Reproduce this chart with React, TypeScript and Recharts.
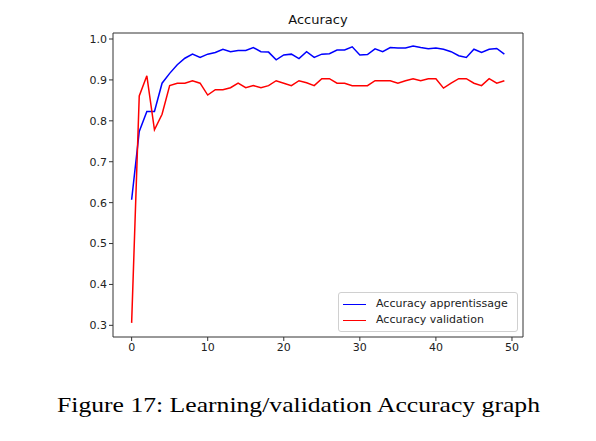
import React from "react";
import { LineChart, Line, XAxis, YAxis, ReferenceLine } from "recharts";

const epochs = Array.from({ length: 50 }, (_, i) => i);

const trainAcc = [
  0.607, 0.774, 0.823, 0.823, 0.892, 0.916, 0.937, 0.953, 0.963, 0.955,
  0.963, 0.967, 0.975, 0.969, 0.972, 0.972, 0.979, 0.969, 0.968, 0.949,
  0.961, 0.963, 0.952, 0.969, 0.955, 0.963, 0.964, 0.973, 0.973, 0.981,
  0.961, 0.962, 0.976, 0.969, 0.979, 0.978, 0.978, 0.983, 0.979, 0.976,
  0.978, 0.975, 0.969, 0.959, 0.955, 0.975, 0.967, 0.975, 0.977, 0.963,
];

const valAcc = [
  0.306, 0.861, 0.91, 0.778, 0.816, 0.886, 0.892, 0.892, 0.898, 0.892,
  0.863, 0.876, 0.876, 0.881, 0.892, 0.881, 0.886, 0.881, 0.886, 0.898,
  0.892, 0.886, 0.898, 0.893, 0.886, 0.903, 0.903, 0.892, 0.892, 0.886,
  0.886, 0.886, 0.898, 0.898, 0.898, 0.892, 0.898, 0.903, 0.898, 0.903,
  0.903, 0.88, 0.892, 0.903, 0.903, 0.892, 0.886, 0.903, 0.892, 0.898,
];

const xTicks = [0, 10, 20, 30, 40, 50];
const yTicks = [0.3, 0.4, 0.5, 0.6, 0.7, 0.8, 0.9, 1.0];

const seriesNames = ["Accuracy apprentissage", "Accuracy validation"];
const seriesColors = ["#0000ff", "#ff0000"];

const X_DOMAIN: [number, number] = [-2.45, 51.45];
const Y_DOMAIN: [number, number] = [0.2715, 1.0147];

const data = epochs.map((e, i) => ({ epoch: e, train: trainAcc[i], val: valAcc[i] }));

const FONT = "'DejaVu Sans', sans-serif";
const AXIS = "#333";

const LegendBox = () => (
  <div
    style={{
      position: "absolute",
      left: 338,
      top: 292,
      width: 180,
      boxSizing: "border-box",
      border: "1px solid #d0d0d0",
      borderRadius: 3,
      background: "rgba(255,255,255,0.8)",
      padding: "3px 3px 3px 4px",
      fontFamily: FONT,
      fontSize: 11,
      color: "#222",
      lineHeight: "16px",
    }}
  >
    {seriesNames.map((n, i) => (
      <div key={n} style={{ display: "flex", alignItems: "center", whiteSpace: "nowrap" }}>
        <span
          style={{
            display: "inline-block",
            width: 23,
            height: 0,
            borderTop: `1.5px solid ${seriesColors[i]}`,
            marginRight: 10,
          }}
        />
        <span>{n}</span>
      </div>
    ))}
  </div>
);

export default function App() {
  return (
    <div style={{ position: "absolute", left: 0, top: 0, width: 596, height: 441, background: "#fff" }}>
      <div
        style={{
          position: "absolute",
          left: 113,
          width: 410,
          top: 12,
          textAlign: "center",
          fontFamily: FONT,
          fontSize: 13,
          color: "#111",
        }}
      >
        Accuracy
      </div>
      <LineChart
        width={596}
        height={441}
        data={data}
        margin={{ top: 33, right: 73, bottom: 84, left: 0 }}
      >
        <XAxis
          dataKey="epoch"
          type="number"
          domain={X_DOMAIN}
          ticks={xTicks}
          allowDataOverflow
          height={20}
          stroke={AXIS}
          tickSize={4}
          tick={{ fontFamily: FONT, fontSize: 11, fill: "#222" }}
        />
        <YAxis
          type="number"
          domain={Y_DOMAIN}
          ticks={yTicks}
          allowDataOverflow
          width={113}
          stroke={AXIS}
          tickSize={4}
          tickFormatter={(v: number) => v.toFixed(1)}
          tick={{ fontFamily: FONT, fontSize: 11, fill: "#222" }}
        />
        <ReferenceLine y={Y_DOMAIN[1]} stroke={AXIS} ifOverflow="visible" />
        <ReferenceLine x={X_DOMAIN[1]} stroke={AXIS} ifOverflow="visible" />
        <Line
          dataKey="train"
          name={seriesNames[0]}
          stroke={seriesColors[0]}
          strokeWidth={1.5}
          dot={false}
          isAnimationActive={false}
        />
        <Line
          dataKey="val"
          name={seriesNames[1]}
          stroke={seriesColors[1]}
          strokeWidth={1.5}
          dot={false}
          isAnimationActive={false}
        />
      </LineChart>
      <LegendBox />
      <svg style={{ position: "absolute", left: 0, top: 0 }} width={596} height={441}>
        <text
          x={57}
          y={412}
          textLength={483}
          lengthAdjust="spacingAndGlyphs"
          fontFamily="'Liberation Serif', 'DejaVu Serif', serif"
          fontSize={21}
          fill="#000"
        >
          Figure 17: Learning/validation Accuracy graph
        </text>
      </svg>
    </div>
  );
}
